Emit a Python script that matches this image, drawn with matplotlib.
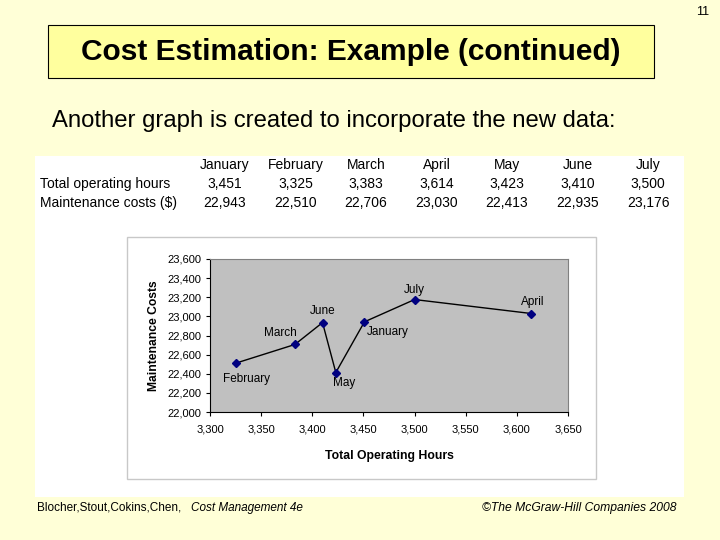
"""Slide 11: cost estimation scatter with connected points."""
import matplotlib
matplotlib.use("Agg")
import matplotlib.pyplot as plt
from matplotlib.patches import Rectangle
from matplotlib.ticker import FuncFormatter, MultipleLocator

plt.rcParams["font.family"] = ["Liberation Sans", "DejaVu Sans"]

months = ["January", "February", "March", "April", "May", "June", "July"]
hours = [3451, 3325, 3383, 3614, 3423, 3410, 3500]
costs = [22943, 22510, 22706, 23030, 22413, 22935, 23176]

# label placement per month: (dx, dy) in points, ha
label_pos = {
    "January": (1.5, -7, "left"),
    "February": (-9, -11, "left"),
    "March": (1, 4, "right"),
    "April": (1, 4, "center"),
    "May": (6, -7.5, "center"),
    "June": (0, 4, "center"),
    "July": (0, 2.5, "center"),
}

W, H = 720, 540
BG = "#FFFFD7"


def fx(px):
    return px / W


def fy(py):
    return 1 - py / H


def box(x0, y0, x1, y1, **kw):
    return Rectangle((fx(x0), fy(y1)), fx(x1) - fx(x0), fy(y0) - fy(y1),
                     transform=fig.transFigure, zorder=-1, **kw)


fig = plt.figure(figsize=(7.2, 5.4), dpi=100, facecolor=BG)

# title box
fig.patches.append(box(48, 25, 654, 78, facecolor="#FFFF9E", edgecolor="black", linewidth=0.8))
fig.text(fx(351), fy(52), "Cost Estimation: Example (continued)", ha="center", va="center",
         fontsize=21.5, fontweight="bold")
fig.text(fx(703), fy(12), "11", ha="center", va="center", fontsize=9)
fig.text(fx(52), fy(121), "Another graph is created to incorporate the new data:",
         ha="left", va="center", fontsize=17.2)

# white panel with table
fig.patches.append(box(35, 156, 684, 497, facecolor="white", edgecolor="none"))
col_x = [225, 296, 366, 437, 507, 578, 648]
rows = [(184, "Total operating hours", hours), (203, "Maintenance costs ($)", costs)]
for cx, m in zip(col_x, months):
    fig.text(fx(cx), fy(165), m, ha="center", va="center", fontsize=10)
for ry, lab, vals in rows:
    fig.text(fx(40), fy(ry), lab, ha="left", va="center", fontsize=10)
    for cx, v in zip(col_x, vals):
        fig.text(fx(cx), fy(ry), f"{v:,}", ha="center", va="center", fontsize=10)

# chart frame
fig.patches.append(box(127, 237, 596, 479, facecolor="white", edgecolor="#C8C8C8", linewidth=1))

ax = fig.add_axes([fx(210), fy(412), fx(568) - fx(210), fy(259) - fy(412)])
ax.set_zorder(2)
ax.set_facecolor("#C0C0C0")
pts = sorted(zip(hours, costs, months))
xs = [p[0] for p in pts]
ys = [p[1] for p in pts]
ax.plot(xs, ys, color="black", linewidth=1, zorder=2)
ax.plot(xs, ys, linestyle="none", marker="D", markersize=4.5, color="#000080", zorder=3)
for x, y, m in pts:
    dx, dy, ha = label_pos[m]
    ax.annotate(m, (x, y), xytext=(dx, dy), textcoords="offset points",
                ha=ha, va="bottom" if dy > 0 else "center", fontsize=8.5)

ax.set_xlim(3300, 3650)
ax.set_ylim(22000, 23600)
ax.xaxis.set_major_locator(MultipleLocator(50))
ax.yaxis.set_major_locator(MultipleLocator(200))
comma = FuncFormatter(lambda v, _: f"{int(v):,}")
ax.xaxis.set_major_formatter(comma)
ax.yaxis.set_major_formatter(comma)
ax.tick_params(labelsize=8, length=3, color="black")
ax.tick_params(axis="x", pad=6)
for side in ["top", "right"]:
    ax.spines[side].set_color("#808080")
for side in ["left", "bottom"]:
    ax.spines[side].set_color("black")
ax.set_xlabel("Total Operating Hours", fontsize=8.8, fontweight="bold", labelpad=11)
ax.set_ylabel("Maintenance Costs", fontsize=8.7, fontweight="bold", labelpad=5)

# footer
fig.text(fx(37), fy(508), "Blocher,Stout,Cokins,Chen,  ", ha="left", va="center", fontsize=8.5)
fig.text(fx(191), fy(508), "Cost Management 4e", ha="left", va="center", fontsize=8.5, style="italic")
fig.text(fx(677), fy(508), "\u00a9The McGraw-Hill Companies 2008", ha="right", va="center",
         fontsize=8.7, style="italic")

fig.savefig("out.png", dpi=100, facecolor=BG)
